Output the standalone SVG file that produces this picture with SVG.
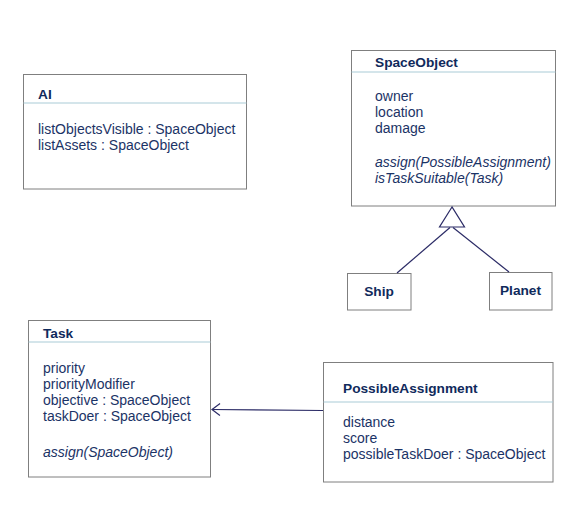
<svg xmlns="http://www.w3.org/2000/svg" width="581" height="508" viewBox="0 0 581 508">
<style>
.box{fill:#ffffff;stroke:#7f7f7f;stroke-width:1}
.sep{stroke:#a9cbd6;stroke-width:1}
.t{font-family:"Liberation Sans",Arial,sans-serif;font-size:14px;fill:#1b3366}
.b{font-family:"Liberation Sans",Arial,sans-serif;font-size:13.7px;font-weight:bold;fill:#102a5c}
.i{font-style:italic}
.c{fill:none;stroke:#2b2b66;stroke-width:1.2}
</style>
<defs>
<marker id="open" markerWidth="12" markerHeight="14" refX="9" refY="7" orient="auto" markerUnits="userSpaceOnUse">
<path d="M1,1 L9,7 L1,13" fill="none" stroke="#2b2b66" stroke-width="1.2"/>
</marker>
</defs>
<rect width="581" height="508" fill="#ffffff"/>
<g id="AI">
<rect class="box" x="23.5" y="74.5" width="223" height="114.5"/>
<line class="sep" x1="23.5" y1="103" x2="246.5" y2="103"/>
<text class="b" x="38" y="99">AI</text>
<text class="t" x="38" y="134">listObjectsVisible : SpaceObject</text>
<text class="t" x="38" y="150">listAssets : SpaceObject</text>
</g>
<g id="SpaceObject">
<rect class="box" x="351.5" y="50.5" width="204" height="155.5"/>
<line class="sep" x1="351.5" y1="72" x2="555.5" y2="72"/>
<text class="b" x="375" y="67">SpaceObject</text>
<text class="t" x="375" y="101">owner</text>
<text class="t" x="375" y="117">location</text>
<text class="t" x="375" y="133">damage</text>
<text class="t i" x="375" y="167">assign(PossibleAssignment)</text>
<text class="t i" x="375" y="183">isTaskSuitable(Task)</text>
</g>
<g id="Ship">
<rect class="box" x="347.5" y="273.5" width="63.5" height="36.5"/>
<text class="b" x="379" y="296" text-anchor="middle">Ship</text>
</g>
<g id="Planet">
<rect class="box" x="489.5" y="272.5" width="62.5" height="37.5"/>
<text class="b" x="520.5" y="295" text-anchor="middle">Planet</text>
</g>
<g id="Task">
<rect class="box" x="28.5" y="320.5" width="182" height="156.5"/>
<line class="sep" x1="28.5" y1="342" x2="210.5" y2="342"/>
<text class="b" x="43" y="338">Task</text>
<text class="t" x="43" y="373">priority</text>
<text class="t" x="43" y="389">priorityModifier</text>
<text class="t" x="43" y="405">objective : SpaceObject</text>
<text class="t" x="43" y="421">taskDoer : SpaceObject</text>
<text class="t i" x="43" y="457">assign(SpaceObject)</text>
</g>
<g id="PossibleAssignment">
<rect class="box" x="323.5" y="362.5" width="229.5" height="119.5"/>
<line class="sep" x1="323.5" y1="402" x2="553" y2="402"/>
<text class="b" x="343" y="393">PossibleAssignment</text>
<text class="t" x="343" y="427">distance</text>
<text class="t" x="343" y="443">score</text>
<text class="t" x="343" y="459">possibleTaskDoer : SpaceObject</text>
</g>
<g id="connectors">
<line class="c" x1="323" y1="410.5" x2="212" y2="409.5" marker-end="url(#open)"/>
<polygon points="452,207 439.5,227 464.5,227" fill="#ffffff" stroke="#2b2b66" stroke-width="1.2"/>
<line class="c" x1="450" y1="227.5" x2="397" y2="273"/>
<line class="c" x1="453" y1="227.5" x2="509" y2="272"/>
</g>
</svg>
